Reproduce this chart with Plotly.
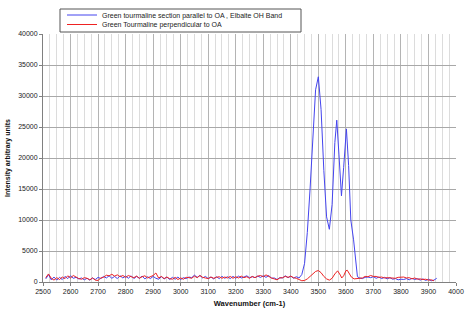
import plotly.graph_objects as go

# ---------------- data ----------------
blue_base1_wn = list(range(2510, 3430, 10))
blue_base1 = [500, 1200, 350, 800, 300, 750, 400, 900, 550, 1000,
              600, 750, 500, 650, 350, 600, 300, 650, 400, 750,
              550, 900, 650, 1000, 600, 900, 550, 1000, 650, 950,
              600, 1000, 550, 900, 600, 950, 500, 850, 550, 900,
              600, 450, 850, 500, 800, 400, 750, 450, 800, 400,
              700, 550, 800, 700, 1100, 750, 1050, 650, 900, 550,
              800, 500, 850, 550, 900, 600, 850, 550, 900, 600,
              950, 650, 800, 1000, 700, 850, 700, 950, 750, 1000,
              750, 1050, 600, 650, 400, 700, 650, 1000, 700, 950,
              600, 850]
blue_peak_wn = [3430, 3440, 3450, 3460, 3470, 3480, 3490, 3500, 3510, 3520,
                3530, 3540, 3550, 3560, 3567, 3575, 3584, 3592, 3602, 3610,
                3618, 3628, 3635, 3642, 3650]
blue_peak = [650, 1200, 3000, 8000, 15000, 24000, 31000, 33100, 27800, 18000,
             10500, 8500, 12500, 22500, 26100, 20500, 13900, 18500, 24700, 18800,
             10000, 6800, 3500, 850, 650]
blue_base2_wn = list(range(3660, 3940, 10))
blue_base2 = [550, 750, 800, 700, 850, 600, 800, 550, 750, 500,
              700, 450, 550, 350, 450, 400, 550, 350, 600, 400,
              550, 300, 500, 250, 450, 200, 300, 600]

red_base1_wn = list(range(2510, 3430, 10))
red_base1 = [700, 1300, 600, 300, 700, 400, 800, 550, 1000, 650,
             1050, 750, 550, 450, 700, 600, 350, 650, 300, 250,
             650, 750, 1100, 1000, 1250, 950, 1150, 850, 1050, 750,
             1050, 850, 700, 950, 600, 850, 1000, 650, 900, 1050,
             1450, 650, 900, 550, 800, 550, 450, 750, 400, 650,
             450, 750, 700, 600, 950, 700, 1050, 750, 650, 550,
             800, 600, 750, 850, 600, 800, 650, 900, 600, 850,
             650, 950, 700, 850, 600, 900, 700, 950, 1050, 850,
             1150, 850, 650, 500, 350, 650, 700, 900, 750, 950,
             700, 600]
red_peak_wn = [3430, 3440, 3450, 3460, 3470, 3480, 3490, 3500, 3510, 3520,
               3530, 3540, 3550, 3560, 3570, 3580, 3585, 3592, 3600, 3605,
               3612, 3620, 3630, 3640, 3650]
red_peak = [400, 200, 250, 500, 900, 1300, 1700, 1850, 1500, 900,
            500, 300, 600, 1300, 1800, 1100, 650, 1000, 1800, 1900,
            1400, 800, 500, 550, 600]
red_base2_wn = list(range(3660, 3930, 10))
red_base2 = [650, 900, 850, 1050, 900, 900, 750, 800, 650, 700,
             650, 650, 600, 750, 750, 800, 650, 700, 500, 650,
             450, 500, 400, 450, 300, 350, 200]

blue_wn = blue_base1_wn + blue_peak_wn + blue_base2_wn
blue_val = blue_base1 + blue_peak + blue_base2
red_wn = red_base1_wn + red_peak_wn + red_base2_wn
red_val = red_base1 + red_peak + red_base2

name_blue = "Green tourmaline section parallel to OA , Elbaite OH Band"
name_red = "Green Tourmaline perpendicular to OA"

FONT = "Liberation Sans, Arial, sans-serif"

fig = go.Figure()
fig.add_trace(go.Scatter(x=blue_wn, y=blue_val, mode="lines", name=name_blue,
                         line=dict(color="#4444ee", width=1), legend="legend"))
fig.add_trace(go.Scatter(x=red_wn, y=red_val, mode="lines", name=name_red,
                         line=dict(color="#ee2222", width=1), legend="legend2"))

leg_common = dict(xanchor="left", yanchor="middle",
                  bgcolor="rgba(0,0,0,0)", borderwidth=0,
                  font=dict(size=7, family=FONT, color="#222222"),
                  itemwidth=30)

fig.update_layout(
    width=474, height=310,
    margin=dict(l=43, r=18, t=34, b=28, pad=0, autoexpand=False),
    paper_bgcolor="white", plot_bgcolor="white",
    font=dict(family=FONT, size=7, color="#222222"),
    showlegend=True,
    legend=dict(x=(62 - 43) / 413, y=1 + (34 - 15) / 248, **leg_common),
    legend2=dict(x=(62 - 43) / 413, y=1 + (34 - 24.5) / 248, **leg_common),
    shapes=[dict(type="rect", xref="paper", yref="paper",
                 x0=(60 - 43) / 413, x1=(301 - 43) / 413,
                 y0=1 + (34 - 32) / 248, y1=1 + (34 - 9) / 248,
                 line=dict(color="#555555", width=1), fillcolor="rgba(0,0,0,0)")],
)

fig.update_xaxes(
    range=[2500, 4000], tick0=2500, dtick=100,
    showgrid=True, gridcolor="#b4b4b4", gridwidth=1,
    minor=dict(dtick=25, tick0=2500, showgrid=True, gridcolor="#dcdcdc", gridwidth=1),
    showline=True, linecolor="#808080", linewidth=1,
    ticks="outside", ticklen=3, tickcolor="#808080",
    zeroline=False, mirror=False, tickformat="d", automargin=False,
    tickfont=dict(size=7, family=FONT, color="#222222"),
    title=dict(text="<b>Wavenumber (cm-1)</b>", font=dict(size=7.5, family=FONT, color="#111111"), standoff=6),
)
fig.update_yaxes(
    range=[0, 40000], tick0=0, dtick=5000,
    showgrid=True, gridcolor="#a8a8a8", gridwidth=1,
    showline=True, linecolor="#808080", linewidth=1,
    ticks="outside", ticklen=3, tickcolor="#808080",
    zeroline=False, tickformat="d", automargin=False,
    tickfont=dict(size=7, family=FONT, color="#222222"),
    title=dict(text="<b>Intensity arbitrary units</b>", font=dict(size=7, family=FONT, color="#111111"), standoff=6),
)

fig.write_html("out.html")
